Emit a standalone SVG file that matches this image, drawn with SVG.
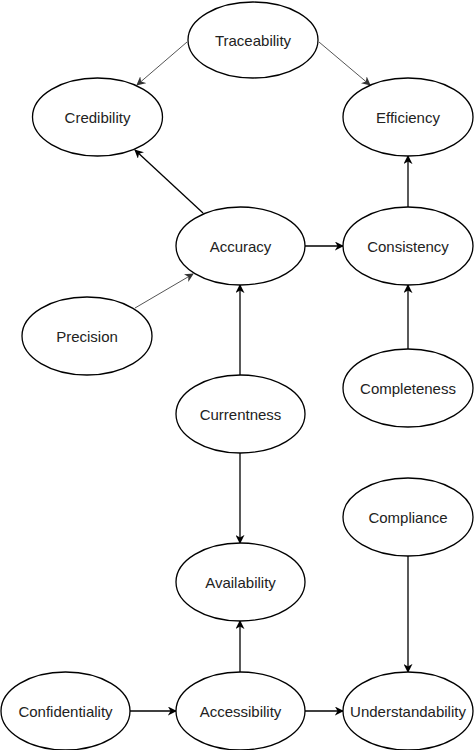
<svg xmlns="http://www.w3.org/2000/svg" width="474" height="750" viewBox="0 0 474 750">
<defs>
<marker id="arr" viewBox="0 0 10 10" refX="9" refY="5" markerWidth="9" markerHeight="9" markerUnits="userSpaceOnUse" orient="auto">
<path d="M0,0 L10,5 L0,10 L3,5 Z" fill="#000"/>
</marker>
<marker id="arrg" viewBox="0 0 10 10" refX="9" refY="5" markerWidth="9" markerHeight="9" markerUnits="userSpaceOnUse" orient="auto">
<path d="M0,0 L10,5 L0,10 L3,5 Z" fill="#333"/>
</marker>
<style>
ellipse{fill:#fff;stroke:#000;stroke-width:1.3}
text{font-family:"Liberation Sans",Arial,sans-serif;font-size:15px;fill:#222;text-anchor:middle}
.e{fill:none;stroke:#000;stroke-width:1.3;marker-end:url(#arr)}
.g{fill:none;stroke:#555;stroke-width:1;marker-end:url(#arrg)}
</style>
</defs>
<rect width="474" height="750" fill="#fff"/>
<g id="connectors">
<line class="g" x1="187" y1="42" x2="137" y2="85"/>
<line class="g" x1="319" y1="42" x2="370" y2="85"/>
<line class="e" x1="203" y1="213" x2="135" y2="150"/>
<line class="e" x1="408" y1="207" x2="408" y2="156"/>
<line class="e" x1="305" y1="246" x2="343" y2="246"/>
<line class="g" x1="135" y1="308" x2="193" y2="274"/>
<line class="e" x1="240" y1="375" x2="240" y2="285"/>
<line class="e" x1="408" y1="349" x2="408" y2="285"/>
<line class="e" x1="240" y1="453" x2="240" y2="543"/>
<line class="e" x1="240" y1="672" x2="240" y2="621"/>
<line class="e" x1="130" y1="711" x2="176" y2="711"/>
<line class="e" x1="305" y1="711" x2="343" y2="711"/>
<line class="e" x1="408" y1="556" x2="408" y2="672"/>
</g>
<g id="traceability"><ellipse cx="253" cy="40" rx="65" ry="38"/><text x="253" y="45.5">Traceability</text></g>
<g id="credibility"><ellipse cx="97.5" cy="117" rx="65" ry="39"/><text x="97.5" y="122.5">Credibility</text></g>
<g id="efficiency"><ellipse cx="408" cy="117" rx="65" ry="39"/><text x="408" y="122.5">Efficiency</text></g>
<g id="accuracy"><ellipse cx="240.5" cy="246" rx="64.5" ry="39"/><text x="240.5" y="251.5">Accuracy</text></g>
<g id="consistency"><ellipse cx="408" cy="246" rx="65" ry="39"/><text x="408" y="251.5">Consistency</text></g>
<g id="precision"><ellipse cx="87" cy="336" rx="65" ry="39"/><text x="87" y="341.5">Precision</text></g>
<g id="currentness"><ellipse cx="240.5" cy="414" rx="64.5" ry="39"/><text x="240.5" y="419.5">Currentness</text></g>
<g id="completeness"><ellipse cx="408" cy="388" rx="65" ry="39"/><text x="408" y="393.5">Completeness</text></g>
<g id="compliance"><ellipse cx="408" cy="517" rx="65" ry="39"/><text x="408" y="522.5">Compliance</text></g>
<g id="availability"><ellipse cx="240.5" cy="582" rx="64.5" ry="39"/><text x="240.5" y="587.5">Availability</text></g>
<g id="confidentiality"><ellipse cx="65.5" cy="711" rx="64.5" ry="39"/><text x="65.5" y="716.5">Confidentiality</text></g>
<g id="accessibility"><ellipse cx="240.5" cy="711" rx="64.5" ry="39"/><text x="240.5" y="716.5">Accessibility</text></g>
<g id="understandability"><ellipse cx="408" cy="711" rx="65" ry="39"/><text x="408" y="716.5">Understandability</text></g>
</svg>
